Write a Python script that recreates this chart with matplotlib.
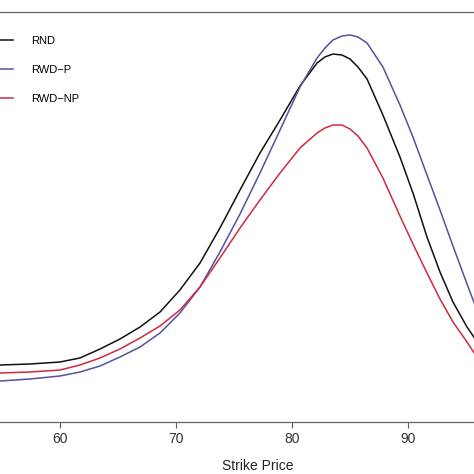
import matplotlib
matplotlib.use("Agg")
import matplotlib.pyplot as plt

plt.rcParams['font.family'] = ['Liberation Sans', 'DejaVu Sans']

strike = [54.0, 54.83, 57.41, 60.0, 61.72, 63.45, 65.17, 66.90, 68.62, 70.34, 72.07,
          73.79, 75.52, 77.24, 78.97, 80.69, 82.16, 82.84, 83.53, 84.31, 85.0, 85.69,
          86.47, 87.84, 89.31, 90.43, 91.64, 92.76, 93.88, 95.09, 96.21]

rnd = [11.3, 11.4, 11.6, 12.0, 12.8, 14.6, 16.6, 19.0, 22.0, 26.4, 31.8,
       38.8, 46.4, 53.8, 60.4, 67.2, 71.8, 73.0, 73.6, 73.4, 72.6, 71.0,
       68.6, 61.4, 53.0, 45.8, 37.0, 30.0, 24.0, 19.0, 15.2]

rwd_p = [8.1, 8.2, 8.6, 9.2, 10.0, 11.2, 13.0, 15.0, 17.8, 21.8, 27.0,
         34.0, 41.6, 49.8, 58.4, 67.0, 72.8, 74.8, 76.4, 77.2, 77.4, 77.0,
         75.8, 71.0, 63.4, 57.0, 49.4, 42.4, 35.2, 27.6, 20.8]

rwd_np = [9.7, 9.8, 10.0, 10.4, 11.4, 12.8, 14.6, 16.8, 19.2, 22.4, 27.0,
          32.8, 38.8, 44.4, 49.8, 54.8, 57.8, 58.8, 59.4, 59.4, 58.6, 57.2,
          54.8, 48.8, 41.2, 35.6, 29.8, 24.6, 20.0, 16.0, 12.0]

xticks = [60, 70, 80, 90]

fig = plt.figure(figsize=(4.74, 4.74), dpi=100)
# axes is wider than the figure: the picture is a crop of a bigger plot
ax = fig.add_axes([-30 / 474, 52 / 474, 576 / 474, 410 / 474])

ax.plot(strike, rnd, color="#111111", lw=1.1, label="RND")
ax.plot(strike, rwd_p, color="#5252a0", lw=1.1, label="RWD\u2212P")
ax.plot(strike, rwd_np, color="#cf2a40", lw=1.1, label="RWD\u2212NP")

ax.set_xlim(52.24, 101.9)
ax.set_ylim(0, 82)
ax.set_xticks(xticks)
ax.set_xticklabels([str(t) for t in xticks])
ax.set_yticks([])
ax.tick_params(axis="x", direction="out", length=4.5, width=0.8, color="#555555",
               labelsize=10, labelcolor="#333333", pad=3)
for s in ax.spines.values():
    s.set_color("#666666")
    s.set_linewidth(0.9)
ax.set_xlabel("Strike Price", fontsize=10, color="#222222", labelpad=9)

ax.legend(frameon=False, fontsize=8, loc="upper left",
          bbox_to_anchor=(-17 / 474, 1 - 30 / 474), bbox_transform=fig.transFigure,
          handlelength=2.2, handletextpad=1.6, labelspacing=1.72, borderpad=0)

fig.savefig("out.png", dpi=100)
